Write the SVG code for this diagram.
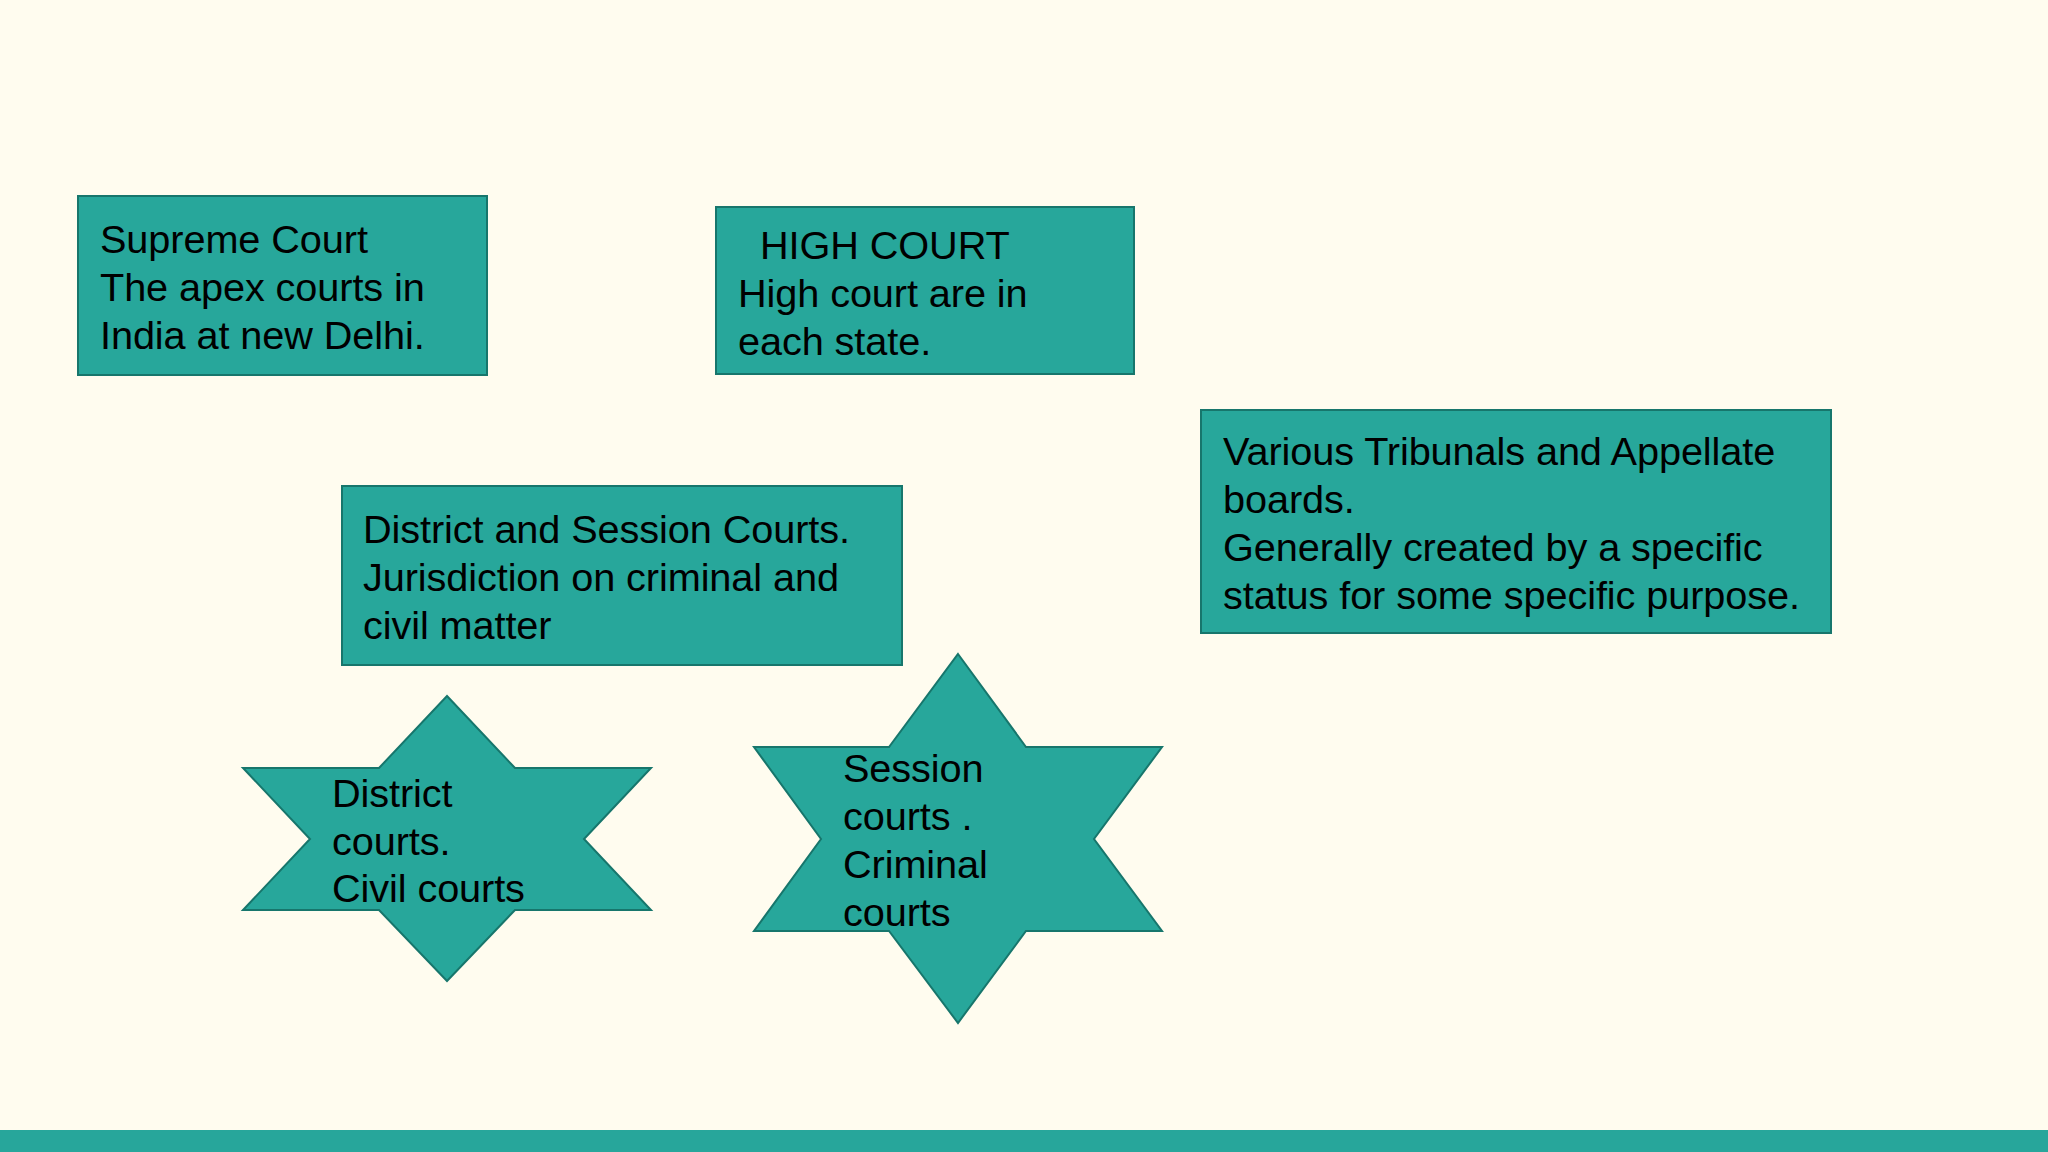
<svg xmlns="http://www.w3.org/2000/svg" width="2048" height="1152" viewBox="0 0 2048 1152">
<style>
.box{fill:#27A79B;stroke:#17766C;stroke-width:2}
.t{font-family:"Liberation Sans",Arial,sans-serif;font-size:39.7px;fill:#000;letter-spacing:-0.1px}
</style>
<rect x="0" y="0" width="2048" height="1152" fill="#FFFCEF"/>
<rect x="0" y="1130" width="2048" height="22" fill="#27A69B"/>
<g id="supreme-court">
<rect class="box" x="78" y="196" width="409" height="179"/>
<text class="t" x="100" y="253">Supreme Court</text>
<text class="t" x="100" y="301">The apex courts in</text>
<text class="t" x="100" y="349">India at new Delhi.</text>
</g>
<g id="high-court">
<rect class="box" x="716" y="207" width="418" height="167"/>
<text class="t" x="760" y="259">HIGH COURT</text>
<text class="t" x="738" y="307">High court are in</text>
<text class="t" x="738" y="355">each state.</text>
</g>
<g id="tribunals">
<rect class="box" x="1201" y="410" width="630" height="223"/>
<text class="t" x="1223" y="465">Various Tribunals and Appellate</text>
<text class="t" x="1223" y="513">boards.</text>
<text class="t" x="1223" y="561">Generally created by a specific</text>
<text class="t" x="1223" y="609">status for some specific purpose.</text>
</g>
<g id="district-session">
<rect class="box" x="342" y="486" width="560" height="179"/>
<text class="t" x="363" y="543">District and Session Courts.</text>
<text class="t" x="363" y="591">Jurisdiction on criminal and</text>
<text class="t" x="363" y="639">civil matter</text>
</g>
<g id="district-courts">
<polygon class="box" points="447,696 515,768 651,768 584,839 651,910 515,910 447,981 379,910 243,910 310,839 243,768 379,768"/>
<text class="t" x="332" y="807">District</text>
<text class="t" x="332" y="855">courts.</text>
<text class="t" x="332" y="902">Civil courts</text>
</g>
<g id="session-courts">
<polygon class="box" points="958,654 1026,747 1162,747 1094,839 1162,931 1026,931 958,1023 889,931 754,931 821,839 754,747 889,747"/>
<text class="t" x="843" y="782">Session</text>
<text class="t" x="843" y="830">courts .</text>
<text class="t" x="843" y="878">Criminal</text>
<text class="t" x="843" y="926">courts</text>
</g>
<g id="connectors"></g>
</svg>
